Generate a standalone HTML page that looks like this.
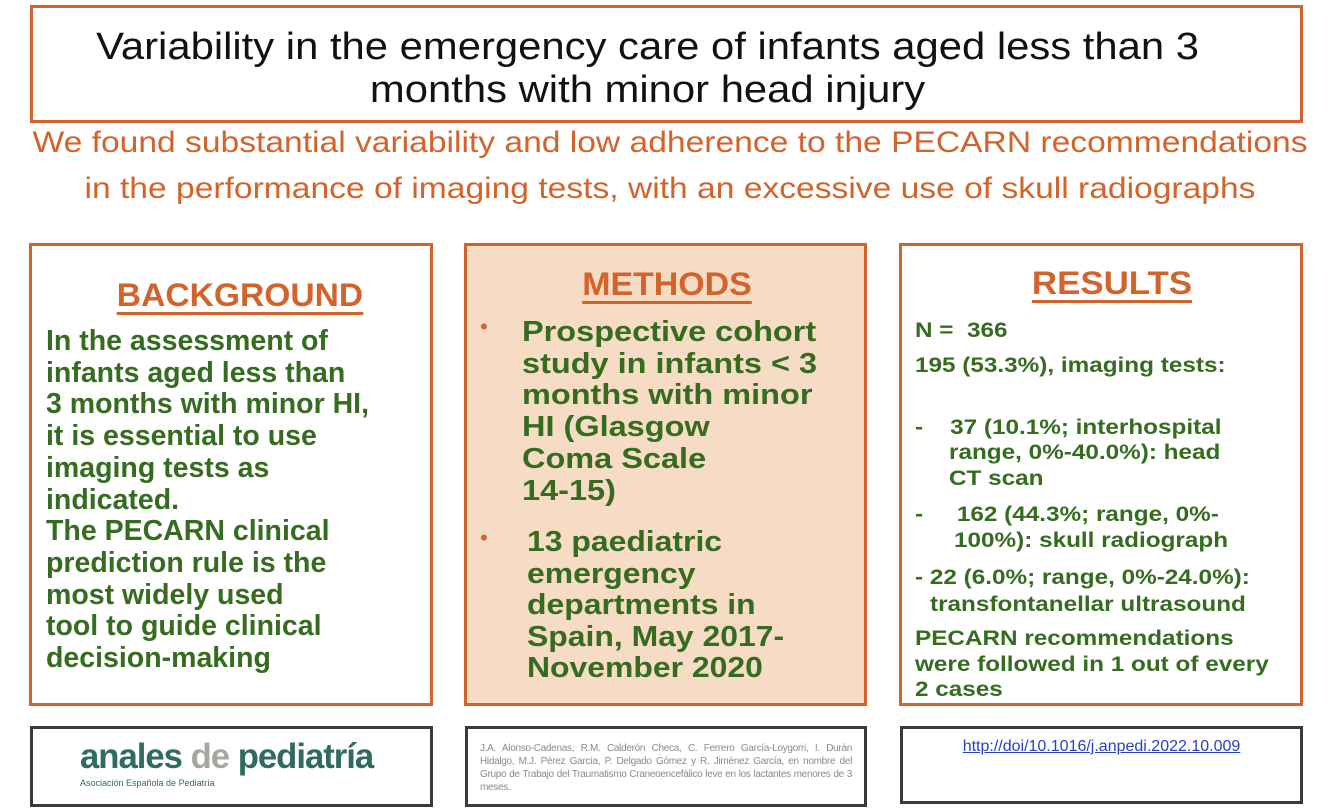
<!DOCTYPE html>
<html><head><meta charset="utf-8"><style>
body{margin:0;width:1333px;height:811px;background:#fff;position:relative;overflow:hidden;font-family:"Liberation Sans",Arial,sans-serif}
.a{position:absolute;white-space:nowrap}
.box{position:absolute;box-sizing:border-box;border:3px solid #d2632b}
.dbox{position:absolute;box-sizing:border-box;border:3px solid #3a3a3a;background:#fff}
.g{color:#356c1f;font-weight:bold}
.h{color:#d2632b;font-weight:bold;font-size:32px;text-decoration:underline;text-decoration-thickness:3px;text-underline-offset:6px;transform-origin:center top}
.ln{position:absolute;white-space:nowrap;line-height:1;transform:scaleX(1.13);transform-origin:left}
</style></head><body>
<div class="box" style="left:30px;top:5px;width:1273px;height:118px"></div>
<div class="a" style="left:0;width:1295px;top:26px;text-align:center;font-size:38px;line-height:43px;color:#111;transform:scaleX(1.1);transform-origin:647px 0">Variability in the emergency care of infants aged less than 3<br>months with minor head injury</div>
<div class="a" style="left:0;width:1340px;top:120px;text-align:center;font-size:30px;line-height:46px;color:#d2632b;transform:scaleX(1.12);transform-origin:670px 0">We found substantial variability and low adherence to the PECARN recommendations<br>in the performance of imaging tests, with an excessive use of skull radiographs</div>

<div class="box" style="left:29px;top:243px;width:404px;height:463px"></div>
<div class="box" style="left:464px;top:243px;width:403px;height:463px;background:#f6dcc5"></div>
<div class="box" style="left:899px;top:243px;width:404px;height:463px"></div>

<div class="a h" style="left:29px;width:422px;text-align:center;top:277px;transform:scaleX(1.05)">BACKGROUND</div>
<div class="a g" style="left:46px;top:326px;font-size:28.5px;line-height:31.7px">In the assessment of<br>infants aged less than<br>3 months with minor HI,<br>it is essential to use<br>imaging tests as<br>indicated.<br>The PECARN clinical<br>prediction rule is the<br>most widely used<br>tool to guide clinical<br>decision-making</div>

<div class="a h" style="left:464px;width:406px;text-align:center;top:266px;transform:scaleX(1.06)">METHODS</div>
<div class="a" style="left:480px;top:314px;color:#d2632b;font-size:22px">•</div>
<div class="a g" style="left:522px;top:317px;font-size:29px;line-height:31.7px;transform:scaleX(1.12);transform-origin:left">Prospective cohort<br>study in infants &lt; 3<br>months with minor<br>HI (Glasgow<br>Coma Scale<br>14-15)</div>
<div class="a" style="left:480px;top:525px;color:#d2632b;font-size:22px">•</div>
<div class="a g" style="left:527px;top:527px;font-size:29px;line-height:31.5px;transform:scaleX(1.1);transform-origin:left">13 paediatric<br>emergency<br>departments in<br>Spain, May 2017-<br>November 2020</div>

<div class="a h" style="left:899px;width:426px;text-align:center;top:265px;transform:scaleX(1.09)">RESULTS</div>
<div class="g" style="font-size:21.5px">
<div class="ln" style="left:915px;top:320px">N =&nbsp; 366</div>
<div class="ln" style="left:915px;top:355px">195 (53.3%), imaging tests:</div>
<div class="ln" style="left:915px;top:417px">-&nbsp;&nbsp;&nbsp; 37 (10.1%; interhospital</div>
<div class="ln" style="left:949px;top:442px">range, 0%-40.0%): head</div>
<div class="ln" style="left:949px;top:468px">CT scan</div>
<div class="ln" style="left:915px;top:504px">-&nbsp;&nbsp;&nbsp;&nbsp; 162 (44.3%; range, 0%-</div>
<div class="ln" style="left:954px;top:530px">100%): skull radiograph</div>
<div class="ln" style="left:915px;top:567px">- 22 (6.0%; range, 0%-24.0%):</div>
<div class="ln" style="left:930px;top:594px">transfontanellar ultrasound</div>
<div class="ln" style="left:915px;top:628px">PECARN recommendations</div>
<div class="ln" style="left:915px;top:654px">were followed in 1 out of every</div>
<div class="ln" style="left:915px;top:679px">2 cases</div>
</div>

<div class="dbox" style="left:30px;top:726px;width:403px;height:81px"></div>
<div class="a" style="left:80px;top:737px;font-size:35px;font-weight:bold;color:#2f6b5e;letter-spacing:-1px;transform:scaleX(0.99);transform-origin:left">anales <span style="color:#a8a6a0">de</span> pediatría</div>
<div class="a" style="left:80px;top:778px;font-size:9px;color:#2f6b5e">Asociación Española de Pediatría</div>

<div class="dbox" style="left:465px;top:726px;width:402px;height:81px"></div>
<div class="a" style="left:480px;top:742px;width:372px;white-space:normal;text-align:justify;font-size:10px;line-height:13px;color:#8a8a8a;letter-spacing:-0.3px">J.A. Alonso-Cadenas, R.M. Calderón Checa, C. Ferrero García-Loygorri, I. Durán Hidalgo, M.J. Pérez García, P. Delgado Gómez y R. Jiménez García, en nombre del Grupo de Trabajo del Traumatismo Craneoencefálico leve en los lactantes menores de 3 meses.</div>

<div class="dbox" style="left:900px;top:726px;width:403px;height:78px"></div>
<div class="a" style="left:900px;width:403px;text-align:center;top:738px;font-size:16px;color:#2a3fc0;text-decoration:underline">http://doi/10.1016/j.anpedi.2022.10.009</div>
</body></html>
